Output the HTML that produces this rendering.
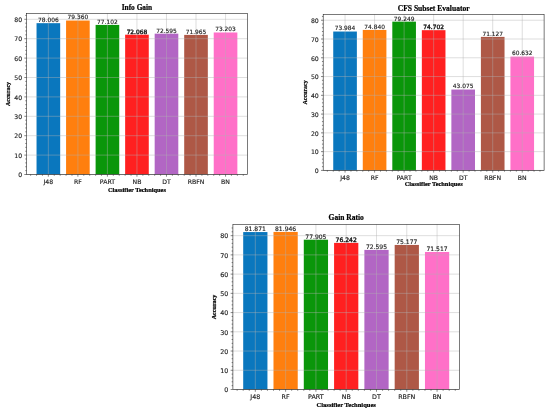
<!DOCTYPE html>
<html><head><meta charset="utf-8"><style>
html,body{margin:0;padding:0;background:#fff;width:550px;height:412px;overflow:hidden}
svg{display:block}
.t{font-family:"DejaVu Sans",sans-serif;fill:#1a1a1a;stroke:#1a1a1a;stroke-width:0.14px}
.b{font-family:"Liberation Serif",serif;font-weight:bold;fill:#000;stroke:#000;stroke-width:0.2px}
</style></head><body>
<svg width="550" height="412" viewBox="0 0 550 412">
<rect width="550" height="412" fill="#fff"/>
<g><rect x="36.54" y="23.17" width="23.63" height="151.33" fill="#0a77be"/>
<rect x="66.07" y="20.54" width="23.63" height="153.96" fill="#ff7f0e"/>
<rect x="95.61" y="24.92" width="23.63" height="149.58" fill="#0a960a"/>
<rect x="125.14" y="34.69" width="23.63" height="139.81" fill="#ff2020"/>
<rect x="154.67" y="33.67" width="23.63" height="140.83" fill="#b266c4"/>
<rect x="184.2" y="34.89" width="23.63" height="139.61" fill="#ae5846"/>
<rect x="213.73" y="32.49" width="23.63" height="142.01" fill="#ff70c8"/>
<path d="M48.35 13.4V174.5M77.89 13.4V174.5M107.42 13.4V174.5M136.95 13.4V174.5M166.48 13.4V174.5M196.01 13.4V174.5M225.55 13.4V174.5M26.5 174.5H247.4M26.5 155.1H247.4M26.5 135.7H247.4M26.5 116.3H247.4M26.5 96.9H247.4M26.5 77.5H247.4M26.5 58.1H247.4M26.5 38.7H247.4M26.5 19.3H247.4" stroke="#b0b0b0" stroke-width="0.5" fill="none" opacity="0.85"/>
<path d="M48.35 174.5v2.2M77.89 174.5v2.2M107.42 174.5v2.2M136.95 174.5v2.2M166.48 174.5v2.2M196.01 174.5v2.2M225.55 174.5v2.2M30.63 174.5v1.25M36.54 174.5v1.25M42.45 174.5v1.25M54.26 174.5v1.25M60.17 174.5v1.25M66.07 174.5v1.25M71.98 174.5v1.25M83.79 174.5v1.25M89.7 174.5v1.25M95.61 174.5v1.25M101.51 174.5v1.25M113.32 174.5v1.25M119.23 174.5v1.25M125.14 174.5v1.25M131.04 174.5v1.25M142.86 174.5v1.25M148.76 174.5v1.25M154.67 174.5v1.25M160.58 174.5v1.25M172.39 174.5v1.25M178.29 174.5v1.25M184.2 174.5v1.25M190.11 174.5v1.25M201.92 174.5v1.25M207.83 174.5v1.25M213.73 174.5v1.25M219.64 174.5v1.25M231.45 174.5v1.25M237.36 174.5v1.25M243.27 174.5v1.25M26.5 174.5h-2.2M26.5 155.1h-2.2M26.5 135.7h-2.2M26.5 116.3h-2.2M26.5 96.9h-2.2M26.5 77.5h-2.2M26.5 58.1h-2.2M26.5 38.7h-2.2M26.5 19.3h-2.2M26.5 170.62h-1.25M26.5 166.74h-1.25M26.5 162.86h-1.25M26.5 158.98h-1.25M26.5 151.22h-1.25M26.5 147.34h-1.25M26.5 143.46h-1.25M26.5 139.58h-1.25M26.5 131.82h-1.25M26.5 127.94h-1.25M26.5 124.06h-1.25M26.5 120.18h-1.25M26.5 112.42h-1.25M26.5 108.54h-1.25M26.5 104.66h-1.25M26.5 100.78h-1.25M26.5 93.02h-1.25M26.5 89.14h-1.25M26.5 85.26h-1.25M26.5 81.38h-1.25M26.5 73.62h-1.25M26.5 69.74h-1.25M26.5 65.86h-1.25M26.5 61.98h-1.25M26.5 54.22h-1.25M26.5 50.34h-1.25M26.5 46.46h-1.25M26.5 42.58h-1.25M26.5 34.82h-1.25M26.5 30.94h-1.25M26.5 27.06h-1.25M26.5 23.18h-1.25M26.5 15.42h-1.25" stroke="#222" stroke-width="0.55" fill="none"/>
<rect x="26.5" y="13.4" width="220.9" height="161.1" fill="none" stroke="#222" stroke-width="0.6"/>
<text class="t" x="22.1" y="177.26" text-anchor="end" font-size="6.2">0</text>
<text class="t" x="22.1" y="157.86" text-anchor="end" font-size="6.2">10</text>
<text class="t" x="22.1" y="138.46" text-anchor="end" font-size="6.2">20</text>
<text class="t" x="22.1" y="119.06" text-anchor="end" font-size="6.2">30</text>
<text class="t" x="22.1" y="99.66" text-anchor="end" font-size="6.2">40</text>
<text class="t" x="22.1" y="80.26" text-anchor="end" font-size="6.2">50</text>
<text class="t" x="22.1" y="60.86" text-anchor="end" font-size="6.2">60</text>
<text class="t" x="22.1" y="41.46" text-anchor="end" font-size="6.2">70</text>
<text class="t" x="22.1" y="22.06" text-anchor="end" font-size="6.2">80</text>
<text class="t" x="48.35" y="183.7" text-anchor="middle" font-size="6.2">J48</text>
<text class="t" x="77.89" y="183.7" text-anchor="middle" font-size="6.2">RF</text>
<text class="t" x="107.42" y="183.7" text-anchor="middle" font-size="6.2">PART</text>
<text class="t" x="136.95" y="183.7" text-anchor="middle" font-size="6.2">NB</text>
<text class="t" x="166.48" y="183.7" text-anchor="middle" font-size="6.2">DT</text>
<text class="t" x="196.01" y="183.7" text-anchor="middle" font-size="6.2">RBFN</text>
<text class="t" x="225.55" y="183.7" text-anchor="middle" font-size="6.2">BN</text>
<text class="t" x="48.35" y="22.07" text-anchor="middle" font-size="5.9">78.006</text>
<text class="t" x="77.89" y="19.44" text-anchor="middle" font-size="5.9">79.360</text>
<text class="t" x="107.42" y="23.82" text-anchor="middle" font-size="5.9">77.102</text>
<text class="t" x="136.95" y="33.59" text-anchor="middle" font-size="5.9" style="stroke-width:0.4px">72.068</text>
<text class="t" x="166.48" y="32.57" text-anchor="middle" font-size="5.9">72.595</text>
<text class="t" x="196.01" y="33.79" text-anchor="middle" font-size="5.9">71.965</text>
<text class="t" x="225.55" y="31.39" text-anchor="middle" font-size="5.9">73.203</text>
<text class="b" x="136.95" y="9.9" text-anchor="middle" font-size="7.35">Info Gain</text>
<text class="b" x="136.95" y="191.6" text-anchor="middle" font-size="6.4">Classifier Techniques</text>
<text class="b" transform="translate(9.7 93.95) rotate(-90)" text-anchor="middle" font-size="5.95">Accuracy</text></g><g><rect x="333.24" y="31.53" width="23.63" height="138.87" fill="#0a77be"/>
<rect x="362.77" y="29.93" width="23.63" height="140.47" fill="#ff7f0e"/>
<rect x="392.31" y="21.65" width="23.63" height="148.75" fill="#0a960a"/>
<rect x="421.84" y="30.18" width="23.63" height="140.22" fill="#ff2020"/>
<rect x="451.37" y="89.55" width="23.63" height="80.85" fill="#b266c4"/>
<rect x="480.9" y="36.89" width="23.63" height="133.51" fill="#ae5846"/>
<rect x="510.43" y="56.59" width="23.63" height="113.81" fill="#ff70c8"/>
<path d="M345.05 14.4V170.4M374.59 14.4V170.4M404.12 14.4V170.4M433.65 14.4V170.4M463.18 14.4V170.4M492.71 14.4V170.4M522.25 14.4V170.4M323.2 170.4H544.1M323.2 151.63H544.1M323.2 132.86H544.1M323.2 114.09H544.1M323.2 95.32H544.1M323.2 76.55H544.1M323.2 57.78H544.1M323.2 39.01H544.1M323.2 20.24H544.1" stroke="#b0b0b0" stroke-width="0.5" fill="none" opacity="0.85"/>
<path d="M345.05 170.4v2.2M374.59 170.4v2.2M404.12 170.4v2.2M433.65 170.4v2.2M463.18 170.4v2.2M492.71 170.4v2.2M522.25 170.4v2.2M327.33 170.4v1.25M333.24 170.4v1.25M339.15 170.4v1.25M350.96 170.4v1.25M356.87 170.4v1.25M362.77 170.4v1.25M368.68 170.4v1.25M380.49 170.4v1.25M386.4 170.4v1.25M392.31 170.4v1.25M398.21 170.4v1.25M410.02 170.4v1.25M415.93 170.4v1.25M421.84 170.4v1.25M427.74 170.4v1.25M439.56 170.4v1.25M445.46 170.4v1.25M451.37 170.4v1.25M457.28 170.4v1.25M469.09 170.4v1.25M474.99 170.4v1.25M480.9 170.4v1.25M486.81 170.4v1.25M498.62 170.4v1.25M504.53 170.4v1.25M510.43 170.4v1.25M516.34 170.4v1.25M528.15 170.4v1.25M534.06 170.4v1.25M539.97 170.4v1.25M323.2 170.4h-2.2M323.2 151.63h-2.2M323.2 132.86h-2.2M323.2 114.09h-2.2M323.2 95.32h-2.2M323.2 76.55h-2.2M323.2 57.78h-2.2M323.2 39.01h-2.2M323.2 20.24h-2.2M323.2 166.65h-1.25M323.2 162.89h-1.25M323.2 159.14h-1.25M323.2 155.38h-1.25M323.2 147.88h-1.25M323.2 144.12h-1.25M323.2 140.37h-1.25M323.2 136.61h-1.25M323.2 129.11h-1.25M323.2 125.35h-1.25M323.2 121.6h-1.25M323.2 117.84h-1.25M323.2 110.34h-1.25M323.2 106.58h-1.25M323.2 102.83h-1.25M323.2 99.07h-1.25M323.2 91.57h-1.25M323.2 87.81h-1.25M323.2 84.06h-1.25M323.2 80.3h-1.25M323.2 72.8h-1.25M323.2 69.04h-1.25M323.2 65.29h-1.25M323.2 61.53h-1.25M323.2 54.03h-1.25M323.2 50.27h-1.25M323.2 46.52h-1.25M323.2 42.76h-1.25M323.2 35.26h-1.25M323.2 31.5h-1.25M323.2 27.75h-1.25M323.2 23.99h-1.25M323.2 16.49h-1.25" stroke="#222" stroke-width="0.55" fill="none"/>
<rect x="323.2" y="14.4" width="220.9" height="156" fill="none" stroke="#222" stroke-width="0.6"/>
<text class="t" x="318.8" y="173.16" text-anchor="end" font-size="6.2">0</text>
<text class="t" x="318.8" y="154.39" text-anchor="end" font-size="6.2">10</text>
<text class="t" x="318.8" y="135.62" text-anchor="end" font-size="6.2">20</text>
<text class="t" x="318.8" y="116.85" text-anchor="end" font-size="6.2">30</text>
<text class="t" x="318.8" y="98.08" text-anchor="end" font-size="6.2">40</text>
<text class="t" x="318.8" y="79.31" text-anchor="end" font-size="6.2">50</text>
<text class="t" x="318.8" y="60.54" text-anchor="end" font-size="6.2">60</text>
<text class="t" x="318.8" y="41.77" text-anchor="end" font-size="6.2">70</text>
<text class="t" x="318.8" y="23" text-anchor="end" font-size="6.2">80</text>
<text class="t" x="345.05" y="179.6" text-anchor="middle" font-size="6.2">J48</text>
<text class="t" x="374.59" y="179.6" text-anchor="middle" font-size="6.2">RF</text>
<text class="t" x="404.12" y="179.6" text-anchor="middle" font-size="6.2">PART</text>
<text class="t" x="433.65" y="179.6" text-anchor="middle" font-size="6.2">NB</text>
<text class="t" x="463.18" y="179.6" text-anchor="middle" font-size="6.2">DT</text>
<text class="t" x="492.71" y="179.6" text-anchor="middle" font-size="6.2">RBFN</text>
<text class="t" x="522.25" y="179.6" text-anchor="middle" font-size="6.2">BN</text>
<text class="t" x="345.05" y="30.43" text-anchor="middle" font-size="5.9">73.984</text>
<text class="t" x="374.59" y="28.83" text-anchor="middle" font-size="5.9">74.840</text>
<text class="t" x="404.12" y="20.55" text-anchor="middle" font-size="5.9">79.249</text>
<text class="t" x="433.65" y="29.08" text-anchor="middle" font-size="5.9" style="stroke-width:0.4px">74.702</text>
<text class="t" x="463.18" y="88.45" text-anchor="middle" font-size="5.9">43.075</text>
<text class="t" x="492.71" y="35.79" text-anchor="middle" font-size="5.9">71.127</text>
<text class="t" x="522.25" y="55.49" text-anchor="middle" font-size="5.9">60.632</text>
<text class="b" x="433.65" y="10.5" text-anchor="middle" font-size="7.57">CFS Subset Evaluator</text>
<text class="b" x="433.65" y="186.1" text-anchor="middle" font-size="6.4">Classifier Techniques</text>
<text class="b" transform="translate(307.2 92.4) rotate(-90)" text-anchor="middle" font-size="5.95">Accuracy</text></g><g><rect x="243.2" y="232.06" width="24.24" height="157.44" fill="#0a77be"/>
<rect x="273.49" y="231.92" width="24.24" height="157.58" fill="#ff7f0e"/>
<rect x="303.79" y="239.69" width="24.24" height="149.81" fill="#0a960a"/>
<rect x="334.08" y="242.89" width="24.24" height="146.61" fill="#ff2020"/>
<rect x="364.38" y="249.9" width="24.24" height="139.6" fill="#b266c4"/>
<rect x="394.67" y="244.93" width="24.24" height="144.57" fill="#ae5846"/>
<rect x="424.96" y="251.97" width="24.24" height="137.53" fill="#ff70c8"/>
<path d="M255.32 224.4V389.5M285.61 224.4V389.5M315.91 224.4V389.5M346.2 224.4V389.5M376.49 224.4V389.5M406.79 224.4V389.5M437.08 224.4V389.5M232.9 389.5H459.5M232.9 370.27H459.5M232.9 351.04H459.5M232.9 331.81H459.5M232.9 312.58H459.5M232.9 293.35H459.5M232.9 274.12H459.5M232.9 254.89H459.5M232.9 235.66H459.5" stroke="#b0b0b0" stroke-width="0.5" fill="none" opacity="0.85"/>
<path d="M255.32 389.5v2.25M285.61 389.5v2.25M315.91 389.5v2.25M346.2 389.5v2.25M376.49 389.5v2.25M406.79 389.5v2.25M437.08 389.5v2.25M237.14 389.5v1.28M243.2 389.5v1.28M249.26 389.5v1.28M261.38 389.5v1.28M267.44 389.5v1.28M273.49 389.5v1.28M279.55 389.5v1.28M291.67 389.5v1.28M297.73 389.5v1.28M303.79 389.5v1.28M309.85 389.5v1.28M321.96 389.5v1.28M328.02 389.5v1.28M334.08 389.5v1.28M340.14 389.5v1.28M352.26 389.5v1.28M358.32 389.5v1.28M364.38 389.5v1.28M370.44 389.5v1.28M382.55 389.5v1.28M388.61 389.5v1.28M394.67 389.5v1.28M400.73 389.5v1.28M412.85 389.5v1.28M418.91 389.5v1.28M424.96 389.5v1.28M431.02 389.5v1.28M443.14 389.5v1.28M449.2 389.5v1.28M455.26 389.5v1.28M232.9 389.5h-2.25M232.9 370.27h-2.25M232.9 351.04h-2.25M232.9 331.81h-2.25M232.9 312.58h-2.25M232.9 293.35h-2.25M232.9 274.12h-2.25M232.9 254.89h-2.25M232.9 235.66h-2.25M232.9 385.65h-1.28M232.9 381.81h-1.28M232.9 377.96h-1.28M232.9 374.12h-1.28M232.9 366.42h-1.28M232.9 362.58h-1.28M232.9 358.73h-1.28M232.9 354.89h-1.28M232.9 347.19h-1.28M232.9 343.35h-1.28M232.9 339.5h-1.28M232.9 335.66h-1.28M232.9 327.96h-1.28M232.9 324.12h-1.28M232.9 320.27h-1.28M232.9 316.43h-1.28M232.9 308.73h-1.28M232.9 304.89h-1.28M232.9 301.04h-1.28M232.9 297.2h-1.28M232.9 289.5h-1.28M232.9 285.66h-1.28M232.9 281.81h-1.28M232.9 277.97h-1.28M232.9 270.27h-1.28M232.9 266.43h-1.28M232.9 262.58h-1.28M232.9 258.74h-1.28M232.9 251.04h-1.28M232.9 247.2h-1.28M232.9 243.35h-1.28M232.9 239.51h-1.28M232.9 231.81h-1.28M232.9 227.97h-1.28" stroke="#222" stroke-width="0.55" fill="none"/>
<rect x="232.9" y="224.4" width="226.6" height="165.1" fill="none" stroke="#222" stroke-width="0.6"/>
<text class="t" x="228.39" y="392.32" text-anchor="end" font-size="6.35">0</text>
<text class="t" x="228.39" y="373.09" text-anchor="end" font-size="6.35">10</text>
<text class="t" x="228.39" y="353.86" text-anchor="end" font-size="6.35">20</text>
<text class="t" x="228.39" y="334.63" text-anchor="end" font-size="6.35">30</text>
<text class="t" x="228.39" y="315.4" text-anchor="end" font-size="6.35">40</text>
<text class="t" x="228.39" y="296.17" text-anchor="end" font-size="6.35">50</text>
<text class="t" x="228.39" y="276.94" text-anchor="end" font-size="6.35">60</text>
<text class="t" x="228.39" y="257.71" text-anchor="end" font-size="6.35">70</text>
<text class="t" x="228.39" y="238.48" text-anchor="end" font-size="6.35">80</text>
<text class="t" x="255.32" y="398.93" text-anchor="middle" font-size="6.35">J48</text>
<text class="t" x="285.61" y="398.93" text-anchor="middle" font-size="6.35">RF</text>
<text class="t" x="315.91" y="398.93" text-anchor="middle" font-size="6.35">PART</text>
<text class="t" x="346.2" y="398.93" text-anchor="middle" font-size="6.35">NB</text>
<text class="t" x="376.49" y="398.93" text-anchor="middle" font-size="6.35">DT</text>
<text class="t" x="406.79" y="398.93" text-anchor="middle" font-size="6.35">RBFN</text>
<text class="t" x="437.08" y="398.93" text-anchor="middle" font-size="6.35">BN</text>
<text class="t" x="255.32" y="230.93" text-anchor="middle" font-size="6.05">81.871</text>
<text class="t" x="285.61" y="230.79" text-anchor="middle" font-size="6.05">81.946</text>
<text class="t" x="315.91" y="238.56" text-anchor="middle" font-size="6.05">77.905</text>
<text class="t" x="346.2" y="241.76" text-anchor="middle" font-size="6.05" style="stroke-width:0.4px">76.242</text>
<text class="t" x="376.49" y="248.77" text-anchor="middle" font-size="6.05">72.595</text>
<text class="t" x="406.79" y="243.81" text-anchor="middle" font-size="6.05">75.177</text>
<text class="t" x="437.08" y="250.85" text-anchor="middle" font-size="6.05">71.517</text>
<text class="b" x="346.2" y="219.8" text-anchor="middle" font-size="7.53">Gain Ratio</text>
<text class="b" x="346.2" y="407.03" text-anchor="middle" font-size="6.56">Classifier Techniques</text>
<text class="b" transform="translate(215.68 306.95) rotate(-90)" text-anchor="middle" font-size="6.1">Accuracy</text></g>
</svg>
</body></html>
